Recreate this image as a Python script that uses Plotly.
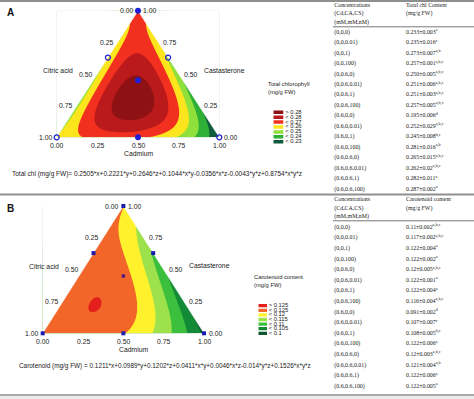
import numpy as np
import plotly.graph_objects as go

W, H = 474, 399

# ---------------- data ----------------
# model terms: x = Citric acid, y = Cadmium, z = Castasterone
terms = ["x", "y", "z", "x*y", "x*z", "y*z", "x*y*z"]
chl_coef = [0.2505, 0.2221, 0.2646, 0.1044, -0.0356, -0.0043, 0.8754]
car_coef = [0.1211, 0.0989, 0.1202, 0.0411, 0.0046, -0.014, 0.1526]

chl_levels = [0.23, 0.24, 0.25, 0.26, 0.27, 0.28]
car_levels = [0.100, 0.105, 0.110, 0.115, 0.120, 0.125]

# band colours, low -> high
chl_colors = ["#0f5c3c", "#2eaf35", "#8fe03a", "#fce51c", "#f2301f", "#bb1a1c", "#8e1214"]
car_colors = ["#0b5530", "#138a36", "#3cbf3c", "#9de24c", "#fff22c", "#f2662a", "#e3201c"]

chl_legend_labels = ["> 0.28", "< 0.28", "< 0.27", "< 0.26", "< 0.25", "< 0.24", "< 0.23"]
car_legend_labels = ["> 0.125", "< 0.125", "< 0.12", "< 0.115", "< 0.11", "< 0.105", "< 0.1"]

tick_values = [0.0, 0.25, 0.5, 0.75, 1.0]
tick_labels = ["0.00", "0.25", "0.50", "0.75", "1.00"]

# design points (Citric acid, Cadmium, Castasterone)
design_ca = [0.0, 1.0, 0.0, 0.5, 0.37, 0.0, 0.275]
design_cd = [0.0, 0.0, 1.0, 0.5, 0.0, 0.37, 0.275]
design_cs = [1.0, 0.0, 0.0, 0.0, 0.63, 0.63, 0.45]
opt_ca, opt_cd, opt_cs = [0.584], [0.22], [0.196]

concentrations = ["(0,0,0)", "(0,0,0.01)", "(0,0,1)", "(0,0,100)",
                  "(0,0.6,0)", "(0,0.6,0.01)", "(0,0.6,1)", "(0,0.6,100)",
                  "(0.6,0,0)", "(0.6,0,0.01)", "(0.6,0,1)", "(0.6,0,100)",
                  "(0.6,0.6,0)", "(0.6,0.6,0.01)", "(0.6,0.6,1)", "(0.6,0.6,100)"]
chl_mean = ["0.233", "0.235", "0.273", "0.257", "0.250", "0.251", "0.251", "0.257",
            "0.195", "0.252", "0.245", "0.281", "0.265", "0.262", "0.282", "0.287"]
chl_sd = ["0.003", "0.016", "0.007", "0.001", "0.005", "0.006", "0.003", "0.005",
          "0.006", "0.029", "0.008", "0.016", "0.015", "0.02", "0.011", "0.002"]
chl_sig = ["c", "c", "a,b", "a,b,c", "a,b,c", "a,b,c", "a,b,c", "a,b,c",
           "d", "a,b,c", "b,c", "a,b", "a,b,c", "a,b,c", "a", "a"]
car_mean = ["0.11", "0.117", "0.122", "0.122", "0.12", "0.122", "0.122", "0.116",
            "0.091", "0.107", "0.108", "0.122", "0.12", "0.121", "0.122", "0.122"]
car_sd = ["0.002", "0.002", "0.004", "0.002", "0.005", "0.001", "0.004", "0.004",
          "0.002", "0.007", "0.005", "0.006", "0.003", "0.004", "0.006", "0.005"]
car_sig = ["a,b,c", "a,b,c", "a", "a", "a,b,c", "a", "a", "a,b,c",
           "d", "c", "b,c", "a", "a,b,c", "a,b", "a", "a"]

# ---------------- helpers ----------------
def px(x):
    return x / W

def py(y):
    return 1 - y / H

SANS = "Liberation Sans, Arial, sans-serif"
SERIF = "Liberation Serif, Times New Roman, serif"
TXT = "#1a1a1a"

def poly(c, x, y, z):
    return (c[0] * x + c[1] * y + c[2] * z + c[3] * x * y + c[4] * x * z
            + c[5] * y * z + c[6] * x * y * z)

def to_uv(ca, cd, cs):
    cd = np.asarray(cd, float)
    cs = np.asarray(cs, float)
    return cd + cs / 2, cs

def eq_text(prefix, coef):
    s = prefix
    for i, (c, t) in enumerate(zip(coef, terms)):
        sign = "" if i == 0 else ("+" if c >= 0 else "-")
        s += f"{sign}{abs(c):g}*{t}"
    return s

uu = np.linspace(0, 1, 321)
vv = np.linspace(0, 1, 321)
U, V = np.meshgrid(uu, vv)
Zcs = V
Ycd = U - V / 2
Xca = 1 - U - V / 2

fig = go.Figure()
annotations = []
shapes = []


def add_ternary(coef, levels, colors, xa, ya, axn):
    step = round(levels[1] - levels[0], 6)
    n = len(colors)
    cscale = [[i / (n - 1), c] for i, c in enumerate(colors)]
    fig.add_trace(go.Contour(
        x=uu, y=vv, z=poly(coef, Xca, Ycd, Zcs), xaxis=xa, yaxis=ya,
        autocontour=False,
        contours=dict(start=levels[0], end=levels[-1], size=step,
                      coloring="fill", showlines=False),
        colorscale=cscale, showscale=False, line=dict(width=0),
        hoverinfo="skip"))
    # white masks outside the triangle
    for mx, my in [([0, 0.5, 0.5, -0.1, -0.1, 0], [0, 1, 1.1, 1.1, -0.1, 0]),
                   ([1, 0.5, 0.5, 1.1, 1.1, 1], [0, 1, 1.1, 1.1, -0.1, 0])]:
        fig.add_trace(go.Scatter(x=mx, y=my, mode="lines", fill="toself",
                                 fillcolor="white", line=dict(width=0.6, color="white"),
                                 xaxis=xa, yaxis=ya, hoverinfo="skip", showlegend=False))
    # tick labels
    xr, yr = "x" + axn, "y" + axn
    f = dict(family=SANS, size=6.8, color=TXT)
    for t, lab in zip(tick_values, tick_labels):
        # left edge: Citric acid
        u, v = (1 - t) / 2, 1 - t
        annotations.append(dict(x=u, y=v, xref=xr, yref=yr, text=lab, showarrow=False,
                                xanchor="right", yanchor="middle", xshift=-3, font=f))
        # right edge: Castasterone
        u, v = 1 - t / 2, t
        annotations.append(dict(x=u, y=v, xref=xr, yref=yr, text=lab, showarrow=False,
                                xanchor="left", yanchor="middle", xshift=3, font=f))
        # bottom: Cadmium
        annotations.append(dict(x=t, y=0, xref=xr, yref=yr, text=lab, showarrow=False,
                                xanchor="center", yanchor="middle", yshift=-8.5, font=f))


add_ternary(chl_coef, chl_levels, chl_colors, "x", "y", "")
add_ternary(car_coef, car_levels, car_colors, "x2", "y2", "2")

# axis titles
for xr, yr, cadx in [("x", "y", 0), ("x2", "y2", 10)]:
    f = dict(family=SANS, size=6.8, color=TXT)
    annotations += [
        dict(x=0.25, y=0.5, xref=xr, yref=yr, text="Citric acid", showarrow=False,
             xanchor="right", yanchor="middle", xshift=-22, yshift=3.5, font=f),
        dict(x=0.75, y=0.5, xref=xr, yref=yr, text="Castasterone", showarrow=False,
             xanchor="left", yanchor="middle", xshift=23, yshift=4, font=f),
        dict(x=0.5, y=0, xref=xr, yref=yr, text="Cadmium", showarrow=False,
             xanchor="center", yanchor="middle", xshift=cadx, yshift=-16.5, font=f),
    ]

# design points, panel A
du, dv = to_uv(design_ca, design_cd, design_cs)
filled = [0, 3, 6]
opened = [1, 2, 4, 5]
fig.add_trace(go.Scatter(x=du[filled], y=dv[filled], mode="markers", xaxis="x", yaxis="y",
                         marker=dict(size=6, color="#1f1fd6"), cliponaxis=False,
                         hoverinfo="skip", showlegend=False))
fig.add_trace(go.Scatter(x=du[opened], y=dv[opened], mode="markers", xaxis="x", yaxis="y",
                         marker=dict(size=5, color="#1f1fd6", symbol="circle-open",
                                     line=dict(width=1.2, color="#1f1fd6")),
                         cliponaxis=False, hoverinfo="skip", showlegend=False))
# design points, panel B
sq = [0, 1, 2, 3, 4, 5]
fig.add_trace(go.Scatter(x=du[sq], y=dv[sq], mode="markers", xaxis="x2", yaxis="y2",
                         marker=dict(size=4, color="#1b1bb0", symbol="square"),
                         cliponaxis=False, hoverinfo="skip", showlegend=False))
fig.add_trace(go.Scatter(x=du[[6]], y=dv[[6]], mode="markers", xaxis="x2", yaxis="y2",
                         marker=dict(size=4, color="#5a1a7a"),
                         cliponaxis=False, hoverinfo="skip", showlegend=False))
ou, ov = to_uv(opt_ca, opt_cd, opt_cs)
fig.add_trace(go.Scatter(x=ou, y=ov, mode="markers", xaxis="x2", yaxis="y2",
                         marker=dict(size=6, color="#e3201c", symbol="triangle-up"),
                         cliponaxis=False, hoverinfo="skip", showlegend=False))

# equations
annotations.append(dict(x=px(10), y=py(174), xref="paper", yref="paper",
                        text=eq_text("Total chl (mg/g FW)= ", chl_coef), showarrow=False,
                        xanchor="left", yanchor="middle",
                        font=dict(family=SANS, size=6.5, color=TXT)))
annotations.append(dict(x=px(16.7), y=py(365.7), xref="paper", yref="paper",
                        text=eq_text("Carotenoid (mg/g FW) = ", car_coef), showarrow=False,
                        xanchor="left", yanchor="middle",
                        font=dict(family=SANS, size=6.4, color=TXT)))

# panel letters
for lab, yy in [("A", 12.7), ("B", 208.3)]:
    annotations.append(dict(x=px(4.5), y=py(yy), xref="paper", yref="paper", text=f"<b>{lab}</b>",
                            showarrow=False, xanchor="left", yanchor="middle",
                            font=dict(family=SANS, size=10, color="#111")))

# ---------------- legends (bar swatches) ----------------
def add_legend(labels, colors, xa, ya, title, tx, ty):
    idx = list(range(len(labels)))
    cols_hi_lo = list(reversed(colors))
    fig.add_trace(go.Bar(x=[1] * len(labels), y=idx, orientation="h", xaxis=xa, yaxis=ya,
                         marker=dict(color=cols_hi_lo, line=dict(width=0)), width=0.72,
                         hoverinfo="skip", showlegend=False))
    fig.add_trace(go.Scatter(x=[1.2] * len(labels), y=idx, mode="text", text=labels,
                             textposition="middle right", xaxis=xa, yaxis=ya,
                             textfont=dict(family=SANS, size=5.8, color=TXT),
                             cliponaxis=False, hoverinfo="skip", showlegend=False))
    annotations.append(dict(x=px(tx), y=py(ty), xref="paper", yref="paper", text=title,
                            showarrow=False, xanchor="left", yanchor="middle", align="left",
                            font=dict(family=SANS, size=5.8, color=TXT)))


add_legend(chl_legend_labels, chl_colors, "x5", "y5",
           "Total chlorophyll<br>(mg/g FW)", 266, 88)
add_legend(car_legend_labels, car_colors, "x6", "y6",
           "Carotenoid content<br>(mg/g FW)", 252, 281)

# ---------------- tables ----------------
def add_table(means, sds, sigs, head2, xa, ya):
    idx = list(range(len(concentrations)))
    vals = [f"{m}±{s}<sup>{g}</sup>" for m, s, g in zip(means, sds, sigs)]
    tf = dict(family=SERIF, size=5.9, color=TXT)
    fig.add_trace(go.Scatter(x=[0] * len(idx), y=idx, text=concentrations, mode="text",
                             textposition="middle right", xaxis=xa, yaxis=ya, textfont=tf,
                             cliponaxis=False, hoverinfo="skip", showlegend=False))
    fig.add_trace(go.Scatter(x=[1] * len(idx), y=idx, text=vals, mode="text",
                             textposition="middle right", xaxis=xa, yaxis=ya, textfont=tf,
                             cliponaxis=False, hoverinfo="skip", showlegend=False))
    h1 = ["Concentrations", "(Cd,CA,CS)", "(mM,mM,nM)"]
    hy = [-2.58, -1.77, -0.98]
    fig.add_trace(go.Scatter(x=[0] * 3 + [1] * len(head2), y=hy + hy[:len(head2)],
                             text=h1 + head2, mode="text", textposition="middle right",
                             xaxis=xa, yaxis=ya, textfont=tf, cliponaxis=False,
                             hoverinfo="skip", showlegend=False))


add_table(chl_mean, chl_sd, chl_sig, ["Total chl Content", "(mg/g FW)"], "x3", "y3")
add_table(car_mean, car_sd, car_sig, ["Carotenoid content", "(mg/g FW)"], "x4", "y4")

# ---------------- axes ----------------
def hidden(domain, rng, anchor):
    return dict(domain=domain, range=rng, visible=False, fixedrange=True, anchor=anchor)

def row_axis(top_px, bot_px, row0_px, pitch):
    return [1 - bot_px / H, 1 - top_px / H], [(bot_px - row0_px) / pitch, (top_px - row0_px) / pitch]

def col_axis(l_px, r_px, c0_px, c1_px):
    s = c1_px - c0_px
    return [l_px / W, r_px / W], [(l_px - c0_px) / s, (r_px - c0_px) / s]

layout_axes = {}
# ternary A / B
layout_axes["xaxis"] = hidden([px(56.7), px(219.3)], [0, 1], "y")
layout_axes["yaxis"] = hidden([py(137.3), py(10.7)], [0, 1], "x")
layout_axes["xaxis2"] = hidden([px(42.7), px(204)], [0, 1], "y2")
layout_axes["yaxis2"] = hidden([py(333.3), py(206)], [0, 1], "x2")
# tables
d, r = col_axis(300, 474, 334.3, 406)
layout_axes["xaxis3"] = hidden(d, r, "y3")
layout_axes["xaxis4"] = hidden(d, r, "y4")
d, r = row_axis(0, 194, 32.3, 10.45)
layout_axes["yaxis3"] = hidden(d, r, "x3")
d, r = row_axis(195, 399, 227.3, 10.6)
layout_axes["yaxis4"] = hidden(d, r, "x4")
# legends
d, r = col_axis(273.3, 313.3, 273.3, 283.3)
layout_axes["xaxis5"] = hidden(d, r, "y5")
d, r = row_axis(100, 160, 112.3, 4.9)
layout_axes["yaxis5"] = hidden(d, r, "x5")
d, r = col_axis(258.3, 298.3, 258.3, 267)
layout_axes["xaxis6"] = hidden(d, r, "y6")
d, r = row_axis(295, 345, 305.7, 4.6)
layout_axes["yaxis6"] = hidden(d, r, "x6")

# ---------------- rules ----------------
shapes += [
    dict(type="rect", xref="paper", yref="paper", x0=0, x1=1, y0=py(399), y1=py(395),
         fillcolor="#ececec", line=dict(width=0), layer="below"),
    dict(type="line", xref="paper", yref="paper", x0=0, x1=1, y0=py(1), y1=py(1),
         line=dict(color="#8f8f8f", width=2)),
    dict(type="line", xref="paper", yref="paper", x0=0, x1=1, y0=py(194.5), y1=py(194.5),
         line=dict(color="#8f8f8f", width=2)),
    dict(type="line", xref="paper", yref="paper", x0=0, x1=1, y0=py(395), y1=py(395),
         line=dict(color="#8f8f8f", width=1.5)),
    dict(type="line", xref="paper", yref="paper", x0=px(333), x1=1, y0=py(26.8), y1=py(26.8),
         line=dict(color="#555", width=0.8)),
    dict(type="line", xref="paper", yref="paper", x0=px(333), x1=1, y0=py(220.8), y1=py(220.8),
         line=dict(color="#555", width=0.8)),
]

fig.update_layout(
    width=W, height=H, margin=dict(l=0, r=0, t=0, b=0),
    paper_bgcolor="white", plot_bgcolor="white", showlegend=False,
    annotations=annotations, shapes=shapes, barmode="overlay",
    **layout_axes,
)

fig.write_html("out.html", config={"displayModeBar": False, "staticPlot": True},
               post_script="document.body.style.margin='0px';")
